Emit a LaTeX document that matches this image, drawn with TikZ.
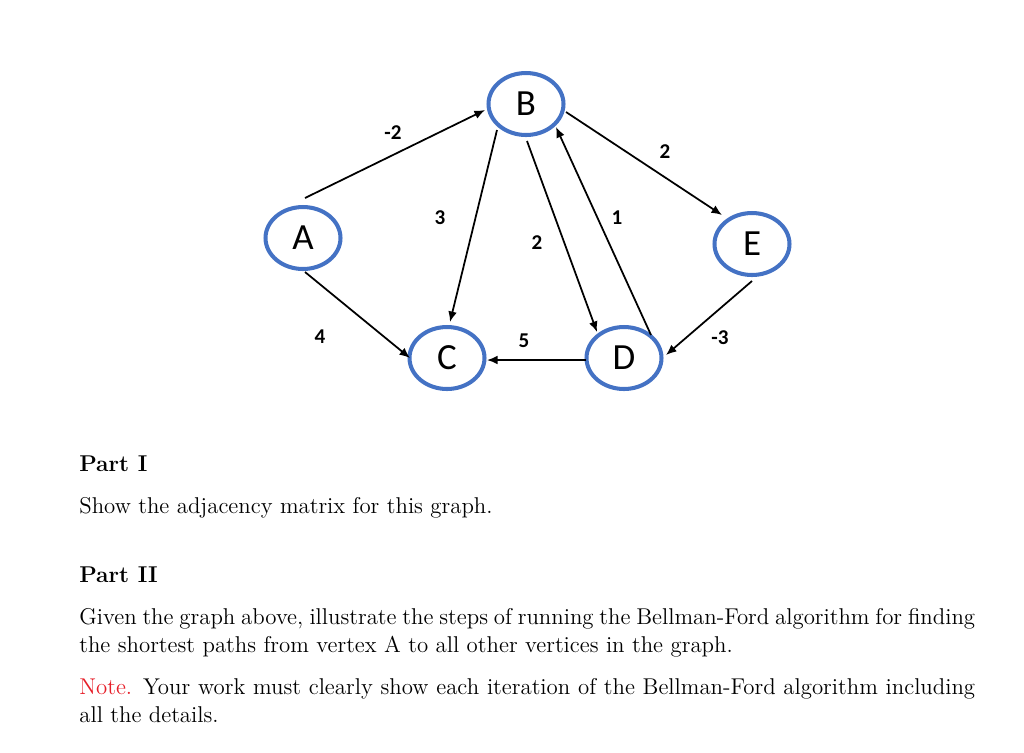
\documentclass[tikz,border=0pt]{standalone}
\usepackage{fontspec}
\newfontfamily\carl{Carlito}
\usetikzlibrary{shapes.geometric,arrows.meta}
\definecolor{nb}{RGB}{68,114,196}
\definecolor{nred}{RGB}{230,30,40}
\begin{document}
\begin{tikzpicture}[x=0.02cm,y=-0.02cm,
  vert/.style={ellipse,draw=nb,line width=2.3pt,inner sep=0pt,minimum width=1.5cm,minimum height=1.24cm,font=\carl\fontsize{21}{24}\selectfont},
  edge/.style={-{Latex[length=6pt,width=5pt]},line width=1pt},
  wt/.style={font=\carl\bfseries\fontsize{12}{14}\selectfont},
  para/.style={anchor=north west,inner sep=0pt,text width=17.92cm,align=justify,font=\fontsize{13}{15.8}\selectfont}]
\useasboundingbox (0,0) rectangle (1024,752);
\node[vert] (A) at (303,238) {A};
\node[vert] (B) at (526,104) {B};
\node[vert] (E) at (752,244) {E};
\node[vert] (C) at (447,358) {C};
\node[vert] (D) at (624,358) {D};
\draw[edge] (305,198) -- (485,110);
\draw[edge] (566,112) -- (722,215);
\draw[edge] (497,130) -- (450,322);
\draw[edge] (527,141) -- (597,332);
\draw[edge] (651,335) -- (556,127);
\draw[edge] (305,272) -- (410,358);
\draw[edge] (586,360) -- (487,360);
\draw[edge] (752,281) -- (666,355);
\node[wt] (w1) at (393,133) {-2};
\node[wt] (w2) at (665,152) {2};
\node[wt] (w3) at (440,218) {3};
\node[wt] (w4) at (537,243) {2};
\node[wt] (w5) at (617,218) {1};
\node[wt] (w6) at (320,337) {4};
\node[wt] (w7) at (524,341) {5};
\node[wt] (w8) at (720,338) {-3};
\node[para] (p1) at (79,455) {\textbf{Part I}};
\node[para] (p2) at (79,497) {Show the adjacency matrix for this graph.};
\node[para] (p3) at (79,566) {\textbf{Part II}};
\node[para] (p4) at (79,608) {Given the graph above, illustrate the steps of running the Bellman-Ford algorithm for finding the shortest paths from vertex A to all other vertices in the graph.};
\node[para] (p5) at (79,678) {\textcolor{nred}{Note.} Your work must clearly show each iteration of the Bellman-Ford algorithm including all the details.};
\end{tikzpicture}
\end{document}
